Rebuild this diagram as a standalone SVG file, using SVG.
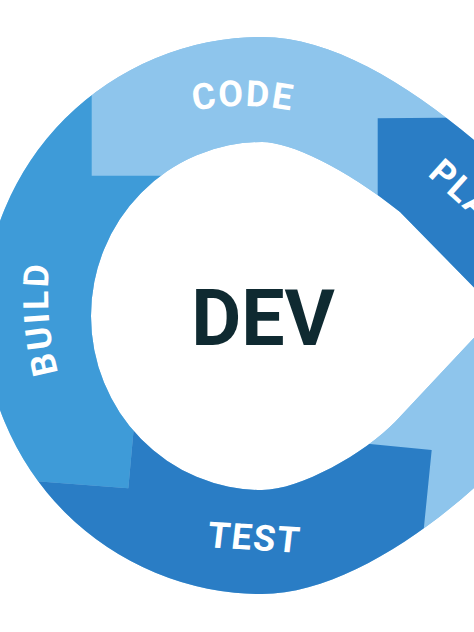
<svg xmlns="http://www.w3.org/2000/svg" width="474" height="632" viewBox="0 0 474 632">
  <style>
    .light { fill: #8EC5EC; }
    .mid { fill: #3E9BD8; }
    .dark { fill: #2A7DC5; }
    .lbl { font-family: Roboto, "Liberation Sans", sans-serif; font-weight: 700; fill: #FFFFFF; }
    .dev { font-family: Roboto, "Liberation Sans", sans-serif; font-weight: 700; fill: #0F2A31; }
  </style>
  <defs>
    <clipPath id="ringClip">
      <path clip-rule="evenodd" d="M262,37 C330,37 405,82 474,140 L560,214 L560,412 L474,488 C410,545 330,594 262,594 A278.5,278.5 0 0 1 262,37 Z M262,142 C290,142 345,168 400,212 L498,312 L395,422 C365,453 300,490 262,490 A171,174 0 0 1 262,142 Z"/>
    </clipPath>
    <path id="codeArc" d="M118,139.5 A250,250 0 0 1 368,139.5"/>
    <path id="buildArc" d="M116.2,485.4 A300,300 0 0 1 89.8,142.3"/>
  </defs>
  <rect width="474" height="632" fill="#FFFFFF"/>
  <g id="ring" clip-path="url(#ringClip)">
    <rect class="light" x="-20" y="-20" width="620" height="680"/>
    <g id="code">
      <polygon class="light" points="91.7,-10 600,-10 600,117.7 377.7,118.3 377.7,300 200,300 200,175.7 91.7,175.7"/>
    </g>
    <g id="release">
      <polygon class="light" points="300,437.2 431.7,450 411.6,650 600,650 600,320 300,320"/>
    </g>
    <g id="build">
      <polygon class="mid" points="-20,-10 91.7,-10 91.7,175.7 200,175.7 200,420 134.5,420 128.3,488.3 43.3,481.7 -20,476.8"/>
    </g>
    <g id="test">
      <polygon class="dark" points="-20,476.8 43.3,481.7 128.3,488.3 134.5,420 300,420 300,437.2 370,444 431.7,450 411.6,650 -20,650"/>
    </g>
    <g id="plan">
      <polygon class="dark" points="377.7,118.3 600,116.5 600,320 377.7,320"/>
    </g>
  </g>
  <g id="labels">
    <text class="lbl" font-size="36" letter-spacing="1.8"><textPath href="#codeArc" startOffset="50%" text-anchor="middle">CODE</textPath></text>
    <text class="lbl" font-size="35" letter-spacing="2.8"><textPath href="#buildArc" startOffset="50%" text-anchor="middle">BUILD</textPath></text>
    <text class="lbl" font-size="36" letter-spacing="1.5" text-anchor="middle" transform="translate(253,550) rotate(3.5) skewX(-3)">TEST</text>
    <text class="lbl" font-size="35" letter-spacing="2" transform="translate(427,175) rotate(42)">PLAN</text>
  </g>
  <g id="dev">
    <text class="dev" x="263" y="345" font-size="77" text-anchor="middle">DEV</text>
  </g>
  <g id="connectors"/>
</svg>
